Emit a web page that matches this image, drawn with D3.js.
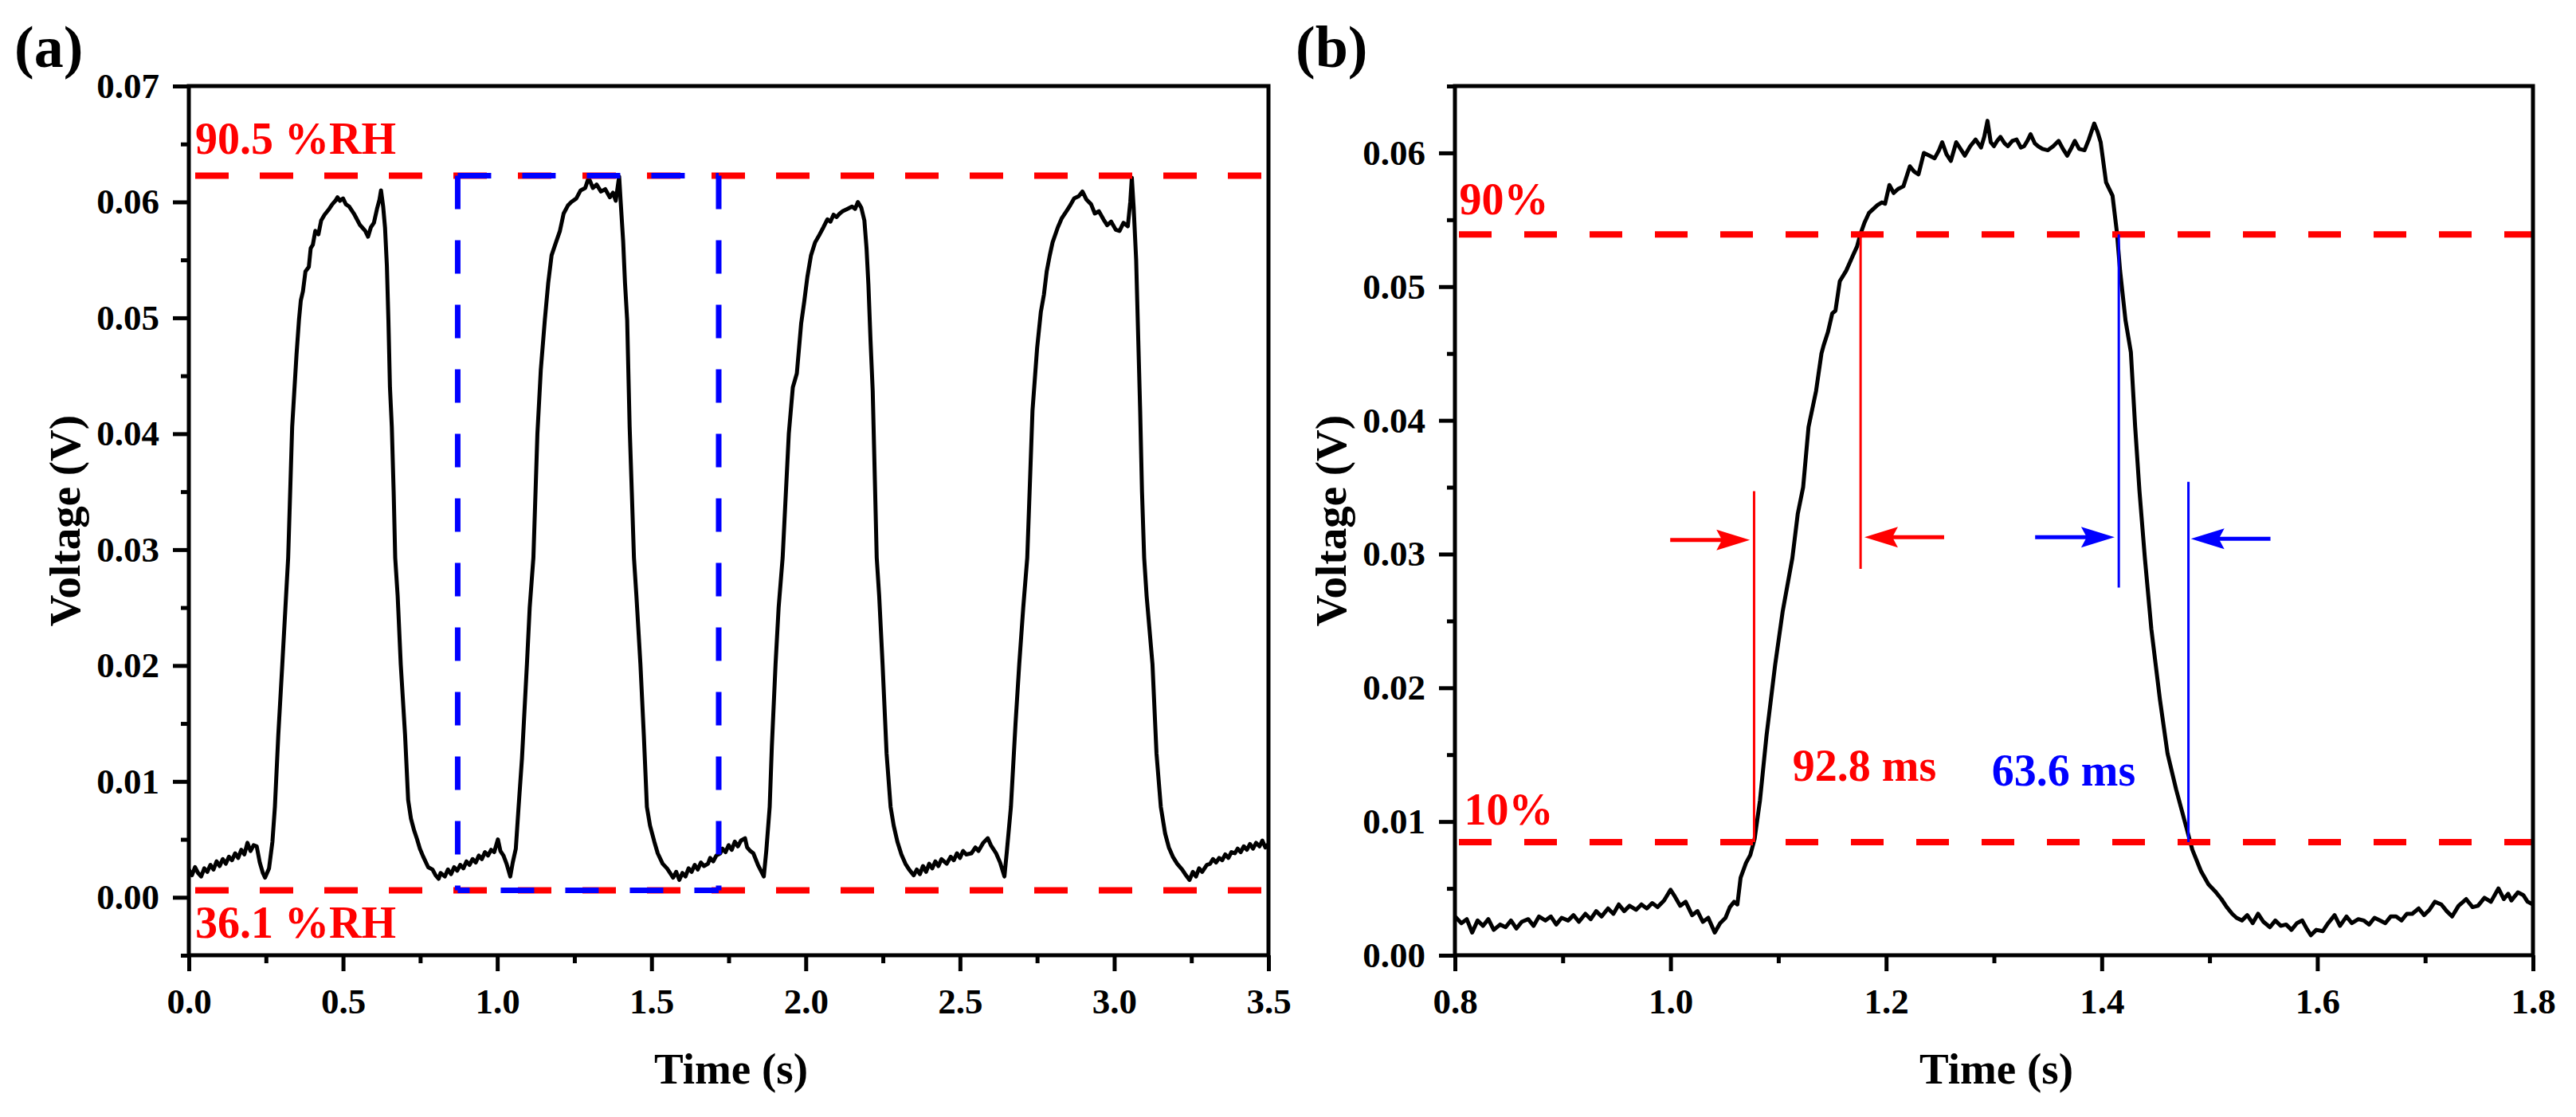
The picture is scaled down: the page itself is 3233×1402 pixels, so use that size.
<!DOCTYPE html>
<html><head><meta charset="utf-8">
<script src="https://cdn.jsdelivr.net/npm/d3@7"></script>
<style>
body{margin:0;background:#fff}
svg{display:block;background:#fff}
text{font-family:"Liberation Serif","Times New Roman",serif;font-weight:bold}
</style>
</head><body>
<svg id="chart" width="3233" height="1402"></svg>
<script>
// ---------- DATA ----------
// Panel (a): time (s), voltage (V)
const seriesA = [
[0,0.0024],[0.01,0.0019],[0.02,0.0026],[0.03,0.0021],[0.04,0.0018],[0.05,0.0025],[0.06,0.0022],[0.07,0.0028],[0.08,0.0024],[0.09,0.0031],
[0.10,0.0027],[0.11,0.0033],[0.12,0.0029],[0.13,0.0035],[0.14,0.0032],[0.15,0.0038],[0.16,0.0034],[0.17,0.0041],[0.18,0.0037],[0.19,0.0047],
[0.20,0.0040],[0.21,0.0045],[0.22,0.0044],[0.23,0.0030],[0.24,0.0021],[0.247,0.0017],[0.26,0.0025],
[0.271,0.0048],[0.279,0.0078],[0.290,0.0140],[0.303,0.0201],[0.322,0.0293],[0.335,0.0406],[0.349,0.0468],[0.357,0.0498],[0.363,0.0515],
[0.370,0.0523],[0.378,0.0540],[0.389,0.0544],[0.395,0.0560],[0.402,0.0563],[0.41,0.0575],[0.42,0.0572],[0.429,0.0584],[0.44,0.0589],
[0.455,0.0594],[0.465,0.0598],[0.475,0.0601],[0.482,0.0604],[0.49,0.0601],[0.50,0.0603],[0.509,0.0598],[0.52,0.0596],[0.535,0.0590],
[0.545,0.0585],[0.555,0.0580],[0.562,0.0578],[0.572,0.0575],[0.581,0.0570],[0.59,0.0578],[0.60,0.0582],[0.61,0.0594],[0.618,0.0602],
[0.623,0.0610],[0.630,0.0596],[0.636,0.0578],[0.642,0.0545],[0.647,0.0498],[0.652,0.0440],[0.658,0.0406],[0.664,0.0350],[0.669,0.0293],
[0.677,0.0260],[0.687,0.0201],[0.701,0.0140],[0.711,0.0084],[0.72,0.0068],[0.730,0.0058],[0.74,0.0050],[0.749,0.0042],[0.76,0.0035],
[0.776,0.0026],[0.79,0.0024],[0.80,0.0019],[0.81,0.0016],[0.816,0.0021],[0.83,0.0018],[0.84,0.0024],[0.85,0.0020],[0.86,0.0026],
[0.87,0.0023],[0.88,0.0028],[0.89,0.0025],[0.90,0.0031],[0.91,0.0028],[0.92,0.0033],[0.93,0.0030],[0.94,0.0036],[0.95,0.0033],
[0.96,0.0039],[0.97,0.0036],[0.98,0.0041],[0.99,0.0039],[1.002,0.0050],[1.01,0.0040],[1.02,0.0036],[1.03,0.0029],[1.042,0.0018],
[1.05,0.0030],[1.06,0.0042],[1.069,0.0078],[1.08,0.0120],[1.096,0.0201],[1.105,0.0250],[1.117,0.0293],[1.13,0.0400],[1.141,0.0455],
[1.154,0.0498],[1.165,0.0530],[1.176,0.0554],[1.19,0.0565],[1.203,0.0575],[1.215,0.0590],[1.229,0.0597],[1.24,0.0600],[1.256,0.0603],
[1.27,0.0610],[1.285,0.0612],[1.296,0.0621],[1.31,0.0612],[1.322,0.0615],[1.336,0.0609],[1.35,0.0611],[1.365,0.0604],[1.375,0.0608],
[1.384,0.0601],[1.395,0.0622],[1.40,0.0600],[1.408,0.0566],[1.414,0.0530],[1.421,0.0498],[1.429,0.0406],[1.436,0.0350],[1.443,0.0293],
[1.451,0.0260],[1.464,0.0201],[1.475,0.0140],[1.485,0.0078],[1.495,0.0062],[1.509,0.0048],[1.52,0.0038],[1.536,0.0029],[1.55,0.0025],
[1.56,0.0021],[1.57,0.0017],[1.58,0.0022],[1.590,0.0015],[1.60,0.0021],[1.61,0.0018],[1.62,0.0025],[1.63,0.0022],[1.64,0.0028],
[1.65,0.0024],[1.66,0.0030],[1.67,0.0027],[1.683,0.0029],[1.69,0.0034],[1.70,0.0031],[1.71,0.0036],[1.723,0.0038],[1.73,0.0042],
[1.74,0.0039],[1.75,0.0045],[1.76,0.0041],[1.77,0.0048],[1.78,0.0044],[1.79,0.0049],[1.803,0.0051],[1.81,0.0043],[1.82,0.0040],
[1.830,0.0038],[1.845,0.0028],[1.864,0.0018],[1.872,0.0040],[1.883,0.0078],[1.89,0.0130],[1.902,0.0201],[1.912,0.0250],[1.925,0.0293],
[1.945,0.0400],[1.958,0.0440],[1.971,0.0452],[1.985,0.0495],[1.995,0.0514],[2.005,0.0535],[2.017,0.0554],[2.03,0.0565],[2.045,0.0572],
[2.057,0.0578],[2.07,0.0585],[2.08,0.0583],[2.09,0.0589],[2.10,0.0587],[2.110,0.0590],[2.12,0.0592],[2.135,0.0594],[2.15,0.0596],
[2.16,0.0594],[2.169,0.0600],[2.18,0.0595],[2.190,0.0584],[2.197,0.0560],[2.203,0.0529],[2.210,0.0480],[2.217,0.0437],[2.224,0.0360],
[2.230,0.0293],[2.238,0.0260],[2.249,0.0201],[2.262,0.0124],[2.275,0.0078],[2.285,0.0062],[2.297,0.0048],[2.31,0.0037],[2.323,0.0029],
[2.335,0.0024],[2.35,0.0019],[2.36,0.0024],[2.37,0.0020],[2.38,0.0027],[2.39,0.0022],[2.40,0.0029],[2.41,0.0025],[2.42,0.0031],
[2.43,0.0027],[2.44,0.0033],[2.457,0.0029],[2.47,0.0035],[2.48,0.0032],[2.49,0.0038],[2.50,0.0034],[2.51,0.0040],[2.52,0.0037],
[2.537,0.0038],[2.55,0.0043],[2.56,0.0040],[2.575,0.0047],[2.590,0.0051],[2.60,0.0045],[2.617,0.0038],[2.63,0.0030],[2.644,0.0018],
[2.652,0.0040],[2.665,0.0078],[2.68,0.0150],[2.692,0.0201],[2.705,0.0250],[2.718,0.0293],[2.735,0.0420],[2.750,0.0474],[2.762,0.0505],
[2.772,0.0520],[2.781,0.0540],[2.791,0.0554],[2.80,0.0565],[2.817,0.0578],[2.83,0.0586],[2.845,0.0592],[2.857,0.0597],[2.87,0.0603],
[2.885,0.0605],[2.897,0.0609],[2.91,0.0602],[2.925,0.0598],[2.937,0.0590],[2.95,0.0592],[2.965,0.0585],[2.977,0.0580],[2.99,0.0583],
[3.005,0.0576],[3.017,0.0575],[3.03,0.0582],[3.044,0.0579],[3.052,0.0600],[3.057,0.0621],[3.063,0.0595],[3.071,0.0550],[3.078,0.0480],
[3.084,0.0420],[3.090,0.0350],[3.097,0.0293],[3.105,0.0260],[3.124,0.0201],[3.137,0.0124],[3.151,0.0078],[3.165,0.0055],[3.177,0.0043],
[3.19,0.0035],[3.204,0.0029],[3.22,0.0024],[3.23,0.0020],[3.244,0.0015],[3.255,0.0022],[3.265,0.0018],[3.275,0.0025],[3.285,0.0022],
[3.30,0.0028],[3.311,0.0029],[3.32,0.0033],[3.33,0.0030],[3.34,0.0034],[3.35,0.0032],[3.36,0.0037],[3.37,0.0034],[3.38,0.0039],
[3.391,0.0038],[3.40,0.0042],[3.41,0.0039],[3.42,0.0044],[3.43,0.0041],[3.44,0.0046],[3.45,0.0042],[3.46,0.0047],[3.471,0.0044],
[3.48,0.0049],[3.49,0.0043],[3.50,0.0046]
];
// Panel (b): time (s), voltage (V)
const seriesB = [
[0.800,0.0029],[0.806,0.0024],[0.811,0.0027],[0.816,0.0017],[0.821,0.0026],[0.826,0.0022],[0.831,0.0027],[0.836,0.0019],[0.842,0.0023],
[0.847,0.0021],[0.852,0.0026],[0.857,0.0020],[0.862,0.0025],[0.868,0.0027],[0.873,0.0022],[0.878,0.0029],[0.884,0.0026],[0.889,0.0029],
[0.894,0.0023],[0.899,0.0028],[0.905,0.0026],[0.910,0.0030],[0.915,0.0025],[0.921,0.0031],[0.926,0.0027],[0.931,0.0033],[0.936,0.0029],
[0.942,0.0035],[0.947,0.0031],[0.952,0.0038],[0.957,0.0033],[0.962,0.0037],[0.968,0.0034],[0.973,0.0038],[0.978,0.0035],[0.983,0.0039],
[0.988,0.0036],[0.994,0.0041],[1.000,0.0049],[1.004,0.0044],[1.009,0.0037],[1.014,0.0040],[1.020,0.0030],[1.025,0.0033],[1.030,0.0025],
[1.035,0.0028],[1.041,0.0017],[1.046,0.0024],[1.051,0.0028],[1.055,0.0036],[1.059,0.0040],[1.062,0.0038],[1.065,0.0058],[1.070,0.0069],
[1.074,0.0075],[1.078,0.0087],[1.083,0.0116],[1.089,0.0164],[1.097,0.0217],[1.104,0.0257],[1.113,0.0297],[1.118,0.0330],[1.123,0.0350],
[1.128,0.0395],[1.135,0.0422],[1.140,0.0450],[1.142,0.0456],[1.146,0.0466],[1.150,0.0480],[1.153,0.0482],[1.157,0.0504],[1.163,0.0512],
[1.169,0.0523],[1.173,0.0530],[1.176,0.0539],[1.180,0.0548],[1.184,0.0555],[1.188,0.0558],[1.192,0.0561],[1.196,0.0563],[1.199,0.0562],
[1.203,0.0576],[1.207,0.0570],[1.211,0.0573],[1.216,0.0575],[1.222,0.0590],[1.226,0.0586],[1.230,0.0584],[1.235,0.0600],[1.240,0.0598],
[1.245,0.0596],[1.249,0.0602],[1.252,0.0608],[1.256,0.0599],[1.260,0.0594],[1.265,0.0608],[1.269,0.0603],[1.273,0.0598],[1.278,0.0605],
[1.283,0.0610],[1.288,0.0604],[1.291,0.0612],[1.294,0.0624],[1.297,0.0608],[1.300,0.0605],[1.303,0.0609],[1.306,0.0612],[1.310,0.0607],
[1.313,0.0605],[1.317,0.0609],[1.321,0.0610],[1.325,0.0604],[1.328,0.0605],[1.331,0.0609],[1.334,0.0614],[1.338,0.0607],[1.341,0.0605],
[1.345,0.0603],[1.350,0.0602],[1.355,0.0605],[1.360,0.0609],[1.364,0.0603],[1.368,0.0598],[1.372,0.0604],[1.375,0.0609],[1.379,0.0603],
[1.384,0.0602],[1.388,0.0610],[1.393,0.0622],[1.396,0.0616],[1.399,0.0608],[1.404,0.0578],[1.410,0.0568],[1.414,0.0541],[1.417,0.0512],
[1.422,0.0475],[1.427,0.0451],[1.431,0.0395],[1.435,0.0347],[1.440,0.0297],[1.446,0.0244],[1.454,0.0191],[1.461,0.0151],[1.469,0.0124],
[1.477,0.0100],[1.484,0.0079],[1.492,0.0063],[1.499,0.0053],[1.505,0.0048],[1.511,0.0042],[1.516,0.0036],[1.521,0.0031],[1.525,0.0028],
[1.530,0.0026],[1.535,0.0030],[1.540,0.0024],[1.545,0.0031],[1.550,0.0025],[1.556,0.0021],[1.561,0.0026],[1.566,0.0022],[1.571,0.0023],
[1.576,0.0019],[1.581,0.0024],[1.586,0.0026],[1.590,0.0020],[1.594,0.0015],[1.599,0.0019],[1.605,0.0018],[1.610,0.0024],[1.616,0.0030],
[1.621,0.0022],[1.627,0.0029],[1.632,0.0024],[1.638,0.0027],[1.643,0.0026],[1.648,0.0023],[1.653,0.0028],[1.658,0.0026],[1.663,0.0024],
[1.668,0.0029],[1.673,0.0029],[1.678,0.0026],[1.683,0.0031],[1.688,0.0031],[1.694,0.0035],[1.699,0.0030],[1.704,0.0034],[1.709,0.0040],
[1.715,0.0038],[1.720,0.0033],[1.725,0.0029],[1.731,0.0037],[1.738,0.0042],[1.744,0.0036],[1.749,0.0037],[1.755,0.0043],[1.761,0.0040],
[1.768,0.0050],[1.773,0.0042],[1.777,0.0046],[1.780,0.0041],[1.786,0.0047],[1.791,0.0045],[1.795,0.0040],[1.800,0.0038]
];
// Axes / ticks
const xDomainA = [0, 3.5], yDomainA = [-0.005, 0.07];
const xTicksA = [0, 0.5, 1.0, 1.5, 2.0, 2.5, 3.0, 3.5];
const xMinorA = [0.25, 0.75, 1.25, 1.75, 2.25, 2.75, 3.25];
const yTicksA = [0, 0.01, 0.02, 0.03, 0.04, 0.05, 0.06, 0.07];
const yMinorA = [-0.005, 0.005, 0.015, 0.025, 0.035, 0.045, 0.055, 0.065];
const xDomainB = [0.8, 1.8], yDomainB = [0, 0.065];
const xTicksB = [0.8, 1.0, 1.2, 1.4, 1.6, 1.8];
const xMinorB = [0.9, 1.1, 1.3, 1.5, 1.7];
const yTicksB = [0, 0.01, 0.02, 0.03, 0.04, 0.05, 0.06];
const yMinorB = [0.005, 0.015, 0.025, 0.035, 0.045, 0.055, 0.065];
// Annotations (a)
const rhLevelsA = [0.06226, 0.00061];
const rhLabelsA = [{t:0.0207, v:0.06417, text:"90.5 %RH"}, {t:0.0207, v:-0.00347, text:"36.1 %RH"}];
const boxA = {t0:0.8716, t1:1.7177, v0:0.00061, v1:0.06226};
// Annotations (b)
const levelsB = [0.0539, 0.00846];
const levelLabelsB = [{t:0.804, v:0.0554, text:"90%"}, {t:0.8085, v:0.00978, text:"10%"}];
const vLinesB = [
  {t:1.0775, v0:0.00846, v1:0.0347, color:"#ff0000"},
  {t:1.1763, v0:0.0289, v1:0.0539, color:"#ff0000"},
  {t:1.4158, v0:0.0275, v1:0.0539, color:"#0000ff"},
  {t:1.4804, v0:0.00846, v1:0.0354, color:"#0000ff"}
];
const arrowsB = [
  {tail:0.9997, tip:1.0736, v:0.03105, color:"#ff0000"},
  {tail:1.2538, tip:1.1799, v:0.03127, color:"#ff0000"},
  {tail:1.3382, tip:1.4119, v:0.03127, color:"#0000ff"},
  {tail:1.5565, tip:1.4827, v:0.03115, color:"#0000ff"}
];
const timeLabelsB = [{t:1.1132, v:0.01302, text:"92.8 ms", color:"#ff0000"}, {t:1.298, v:0.0127, text:"63.6 ms", color:"#0000ff"}];

// ---------- DRAW ----------
const svg = d3.select("#chart");
svg.append("rect").attr("width",3233).attr("height",1402).attr("fill","#fff");
const TOP = 108, BOTTOM = 1199;
const RED = "#ff0000", BLUE = "#0000ff";

function drawFrame(x, y, xt, xm, yt, ym, panelLabel, panelLabelX) {
  const g = svg.append("g");
  const [x0, x1] = x.range();
  const gxm = g.append("g").attr("transform",`translate(0,${BOTTOM})`)
    .call(d3.axisBottom(x).tickValues(xm).tickSize(10).tickSizeOuter(0).tickFormat(""));
  const gym = g.append("g").attr("transform",`translate(${x0},0)`)
    .call(d3.axisLeft(y).tickValues(ym).tickSize(10).tickSizeOuter(0).tickFormat(""));
  const gx = g.append("g").attr("transform",`translate(0,${BOTTOM})`)
    .call(d3.axisBottom(x).tickValues(xt).tickSize(20).tickPadding(21).tickSizeOuter(0).tickFormat(d3.format(".1f")));
  const gy = g.append("g").attr("transform",`translate(${x0},0)`)
    .call(d3.axisLeft(y).tickValues(yt).tickSize(20).tickPadding(17).tickSizeOuter(0).tickFormat(d3.format(".2f")));
  [gxm, gym, gx, gy].forEach(a => {
    a.select(".domain").remove();
    a.selectAll(".tick line").attr("stroke","#000").attr("stroke-width",5);
    a.selectAll(".tick text").attr("fill","#000").attr("font-size",45)
      .attr("font-family",'"Liberation Serif","Times New Roman",serif').attr("font-weight","bold");
  });
  g.append("rect").attr("x",x0).attr("y",TOP).attr("width",x1-x0).attr("height",BOTTOM-TOP)
    .attr("fill","none").attr("stroke","#000").attr("stroke-width",5);
  g.append("text").attr("x",(x0+x1)/2+3).attr("y",1360).attr("text-anchor","middle")
    .attr("font-size",55).text("Time (s)");
  g.append("text").attr("transform",`translate(${x0-137},${(TOP+BOTTOM)/2}) rotate(-90)`)
    .attr("text-anchor","middle").attr("font-size",55).text("Voltage (V)");
  g.append("text").attr("x",panelLabelX).attr("y",84).attr("font-size",74).text(panelLabel);
  return g;
}

const line = (x, y) => d3.line().x(d => x(d[0])).y(d => y(d[1]));

// Panel (a)
const xA = d3.scaleLinear().domain(xDomainA).range([237, 1592]);
const yA = d3.scaleLinear().domain(yDomainA).range([BOTTOM, TOP]);
const gA = svg.append("g");
gA.append("path").datum(seriesA).attr("d", line(xA,yA)).attr("fill","none")
  .attr("stroke","#000").attr("stroke-width",5).attr("stroke-linejoin","round");
gA.selectAll(".rh").data(rhLevelsA).enter().append("line")
  .attr("x1", xA(xDomainA[0])).attr("x2", xA(xDomainA[1]))
  .attr("y1", d => yA(d)).attr("y2", d => yA(d))
  .attr("stroke", RED).attr("stroke-width", 8).attr("stroke-dasharray","42,39").attr("stroke-dashoffset",73);
const boxLines = [
  {x1:boxA.t0, y1:boxA.v1, x2:boxA.t1, y2:boxA.v1, off:0},
  {x1:boxA.t0, y1:boxA.v1, x2:boxA.t0, y2:boxA.v0, off:0},
  {x1:boxA.t1, y1:boxA.v1, x2:boxA.t1, y2:boxA.v0, off:0},
  {x1:boxA.t0, y1:boxA.v0, x2:boxA.t1, y2:boxA.v0, off:27}
];
gA.selectAll(".box").data(boxLines).enter().append("line")
  .attr("x1", d => xA(d.x1)).attr("x2", d => xA(d.x2))
  .attr("y1", d => yA(d.y1)).attr("y2", d => yA(d.y2))
  .attr("stroke", BLUE).attr("stroke-width", 7).attr("stroke-dasharray","42,39")
  .attr("stroke-dashoffset", d => d.off);
gA.selectAll(".rhl").data(rhLabelsA).enter().append("text")
  .attr("x", d => xA(d.t)).attr("y", d => yA(d.v)).attr("fill", RED).attr("font-size",56).text(d => d.text);
drawFrame(xA, yA, xTicksA, xMinorA, yTicksA, yMinorA, "(a)", 18);

// Panel (b)
const xB = d3.scaleLinear().domain(xDomainB).range([1826, 3179]);
const yB = d3.scaleLinear().domain(yDomainB).range([BOTTOM, TOP]);
const gB = svg.append("g");
gB.append("path").datum(seriesB).attr("d", line(xB,yB)).attr("fill","none")
  .attr("stroke","#000").attr("stroke-width",5).attr("stroke-linejoin","round");
gB.selectAll(".lv").data(levelsB).enter().append("line")
  .attr("x1", xB(xDomainB[0])).attr("x2", xB(xDomainB[1]))
  .attr("y1", d => yB(d)).attr("y2", d => yB(d))
  .attr("stroke", RED).attr("stroke-width", 8).attr("stroke-dasharray","41,41").attr("stroke-dashoffset",77);
gB.selectAll(".vl").data(vLinesB).enter().append("line")
  .attr("x1", d => xB(d.t)).attr("x2", d => xB(d.t))
  .attr("y1", d => yB(d.v0)).attr("y2", d => yB(d.v1))
  .attr("stroke", d => d.color).attr("stroke-width", 3);
const ag = gB.selectAll(".arr").data(arrowsB).enter().append("g");
ag.append("line")
  .attr("x1", d => xB(d.tail)).attr("x2", d => xB(d.tip) - Math.sign(xB(d.tip)-xB(d.tail))*30)
  .attr("y1", d => yB(d.v)).attr("y2", d => yB(d.v))
  .attr("stroke", d => d.color).attr("stroke-width", 5);
ag.append("path").attr("fill", d => d.color).attr("d", d => {
  const tx = xB(d.tip), ty = yB(d.v), s = Math.sign(xB(d.tip)-xB(d.tail));
  return `M${tx},${ty} L${tx-s*42},${ty-13} L${tx-s*35},${ty} L${tx-s*42},${ty+13} Z`;
});
gB.selectAll(".lvl").data(levelLabelsB).enter().append("text")
  .attr("x", d => xB(d.t)).attr("y", d => yB(d.v)).attr("fill", RED).attr("font-size",56).text(d => d.text);
gB.selectAll(".tl").data(timeLabelsB).enter().append("text")
  .attr("x", d => xB(d.t)).attr("y", d => yB(d.v)).attr("fill", d => d.color).attr("font-size",56).text(d => d.text);
drawFrame(xB, yB, xTicksB, xMinorB, yTicksB, yMinorB, "(b)", 1626);
</script>
</body></html>
